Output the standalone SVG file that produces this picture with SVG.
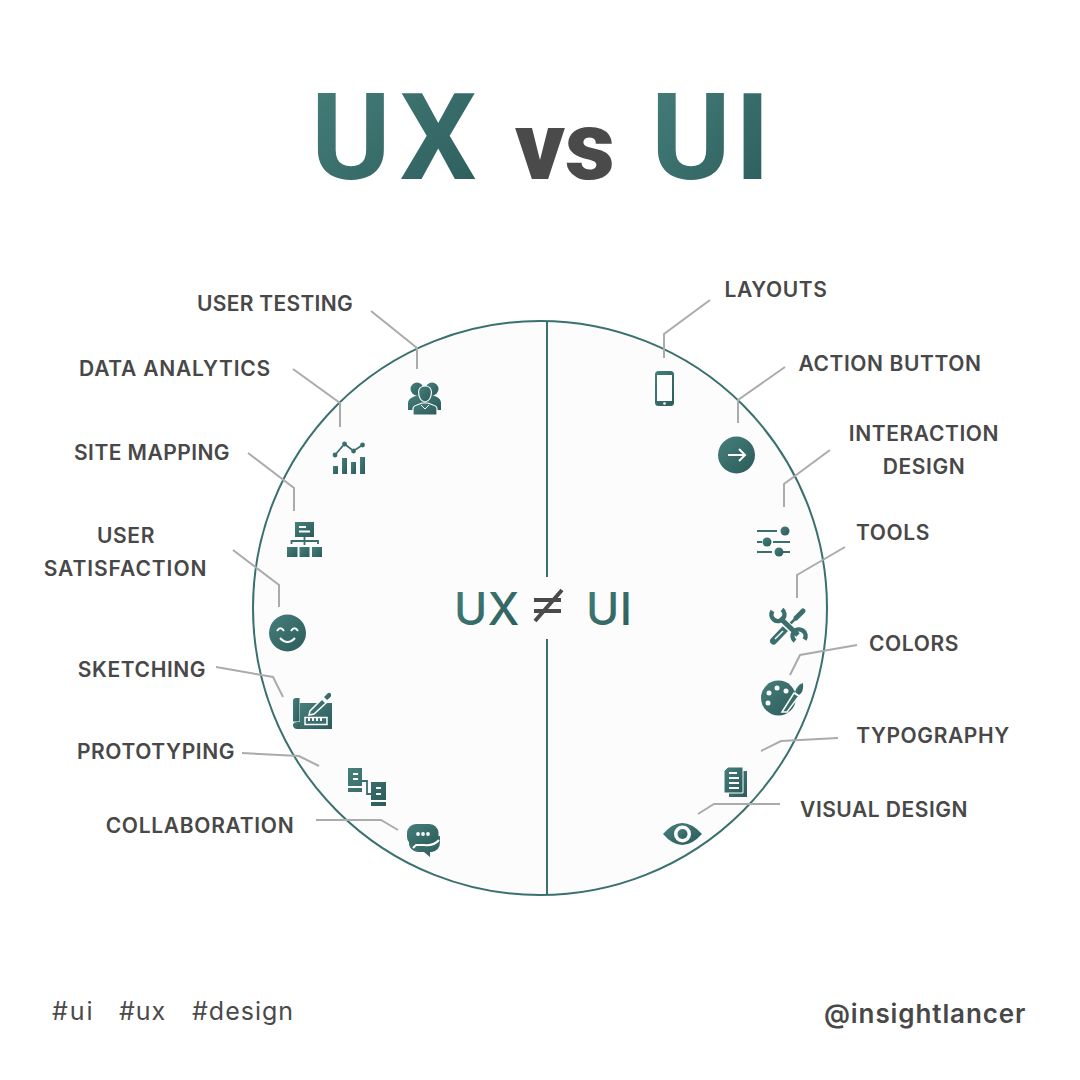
<svg xmlns="http://www.w3.org/2000/svg" width="1080" height="1080" viewBox="0 0 1080 1080">
<defs>
<linearGradient id="g" x1="0" y1="0" x2="1" y2="1"><stop offset="0" stop-color="#467f7b"/><stop offset="1" stop-color="#2b5b5a"/></linearGradient>
</defs>
<style>
text{font-family:"Inter","Liberation Sans",sans-serif}
.l{font-size:21px;font-weight:600;fill:#484848;letter-spacing:.6px}
.m{text-anchor:middle}
.c{fill:none;stroke:#ababab;stroke-width:2}
.i{fill:url(#g)}
.s{fill:none;stroke:#3a6f6d}
.w{fill:#fdfdfd}
.ws{fill:none;stroke:#fdfdfd;stroke-width:2}
.h{font-size:25px;fill:#4a4a4a;letter-spacing:1px}
.t{font-family:"Roboto","Liberation Sans",sans-serif}
</style>
<rect width="1080" height="1080" fill="#fff"/>
<g id="title">
<text class="t" x="311" y="179" font-size="121" font-weight="700" fill="url(#g)" letter-spacing="9">UX</text>
<text class="t" x="515" y="179" font-size="97" font-weight="900" fill="#4a4a4a">vs</text>
<text class="t" x="651" y="179" font-size="121" font-weight="700" fill="url(#g)" letter-spacing="4">UI</text>
</g>
<g id="circle">
<circle cx="540" cy="608" r="287" fill="#fcfcfc" stroke="#3a706e" stroke-width="2"/>
<path d="M547 321V577M547 639V895" fill="none" stroke="#3a706e" stroke-width="2"/>
<text x="454" y="625" font-size="45" font-weight="500" fill="url(#g)" letter-spacing="0.500">UX</text>
<path d="M534 600H561M534 611H561M535 621L562 590" fill="none" stroke="#4a4a4a" stroke-width="4"/>
<text x="586" y="625" font-size="45" font-weight="500" fill="url(#g)" letter-spacing="0.500">UI</text>
</g>
<g id="connectors">
<path class="c" d="M371 311L417 348V369"/>
<path class="c" d="M293 369L340 403V427"/>
<path class="c" d="M248 453L294 488V511"/>
<path class="c" d="M233 550L279 585V607"/>
<path class="c" d="M216 667L273 677L283 697"/>
<path class="c" d="M242 753L299 756L319 766"/>
<path class="c" d="M316 820H381L398 830"/>
<path class="c" d="M710 300L664 334V358"/>
<path class="c" d="M785 367L738 400V423"/>
<path class="c" d="M830 450L784 484V507"/>
<path class="c" d="M845 547L797 575V598"/>
<path class="c" d="M857 645L800 655L790 675"/>
<path class="c" d="M838 738L781 741L761 751"/>
<path class="c" d="M780 804H714L698 814"/>
</g>
<g id="user-testing">
<text class="l m" x="275" y="311" style="letter-spacing:.3px">USER TESTING</text>
<circle class="i" cx="417" cy="389" r="6.500"/><circle class="i" cx="432" cy="389" r="6.500"/>
<path class="i" d="M408 410V403Q408 399 413 397L420 394H430L437 397Q441 399 441 403V410Z"/>
<path class="i" d="M413 415V409Q413 406 417 405L422 403H428L433 405Q437 406 437 409V415Z" stroke="#fdfdfd" stroke-width="1.200"/>
<path class="i" d="M418.500 392Q419 386 425 386Q431 386 431.500 392Q431 401 425 402Q419 401 418.500 392Z" stroke="#fdfdfd" stroke-width="1.200"/>
<path d="M421 405L425 409L429 405" fill="none" stroke="#fdfdfd" stroke-width="1"/>
</g>
<g id="data-analytics">
<text class="l m" x="175" y="376" style="letter-spacing:.75px">DATA ANALYTICS</text>
<path class="s" d="M335 455L344.500 444L353.500 451L362.500 445" stroke-width="1.800"/>
<circle class="i" cx="335" cy="455" r="2.400"/><circle class="i" cx="344.500" cy="444" r="2.400"/><circle class="i" cx="353.500" cy="451" r="2.400"/><circle class="i" cx="362.500" cy="445" r="2.400"/>
<rect class="i" x="333" y="466" width="5" height="8"/><rect class="i" x="342" y="458" width="5" height="16"/><rect class="i" x="351" y="462" width="5" height="12"/><rect class="i" x="360" y="457" width="5" height="17"/>
</g>
<g id="site-mapping">
<text class="l m" x="152" y="460" style="letter-spacing:.45px">SITE MAPPING</text>
<rect class="i" x="295" y="522" width="19" height="15"/>
<path class="ws" d="M299 527H306M299 531.500H310" stroke-width="1.600"/>
<path class="s" d="M291.500 544V541H318V544M304.500 537V545" stroke-width="1.800"/>
<rect class="i" x="287" y="547" width="10.500" height="10"/><rect class="i" x="299.500" y="547" width="10" height="10"/><rect class="i" x="312" y="547" width="10" height="10"/>
</g>
<g id="user-satisfaction">
<text class="l m" x="126" y="543">USER</text><text class="l m" x="125.500" y="576" style="letter-spacing:.95px">SATISFACTION</text>
<circle class="i" cx="287.500" cy="633" r="18.500"/>
<path class="ws" d="M277 631Q280.500 625.500 284 631M291 631Q294.500 625.500 298 631M280 638Q287.500 646 295 638" stroke-width="2.400"/>
</g>
<g id="sketching">
<text class="l m" x="142" y="677">SKETCHING</text>
<rect class="i" x="300" y="703" width="32" height="26"/>
<path class="i" d="M293 701Q293 698 296 698H299.500V721.500H293Z"/>
<path class="i" d="M293 724Q294 722 297 722H300V729H297Q294 729 293 726Z"/>
<path d="M309 715L310 711L322 699L326 703L314 714Z" fill="#3a6f6d" stroke="#fdfdfd" stroke-width="1.500"/>
<path class="i" d="M324 697L328 693Q330 692 331 694Q331.500 696 330 697.500L327 700Z"/>
<rect x="305" y="717.500" width="22" height="7" fill="#3a6f6d" stroke="#fdfdfd" stroke-width="1.500"/>
<path class="ws" d="M309 718V721M313 718V721M317 718V721M321 718V721" stroke-width="1"/>
</g>
<g id="prototyping">
<text class="l m" x="156" y="759">PROTOTYPING</text>
<path class="i" d="M348 768H362V786H348ZM371 782H386V800H371ZM348 788H362V792H348ZM371 802H386V806H371Z"/>
<path class="ws" d="M353 774H358M353 779H358M376 788H381M376 794H381" stroke-width="1.500"/>
<path class="s" d="M362 781H367V794H371" stroke-width="1.800"/>
</g>
<g id="collaboration">
<text class="l m" x="200" y="833" style="letter-spacing:.7px">COLLABORATION</text>
<path class="i" d="M409 840V845Q411 851 418 852H424L430 857V852H432Q440 850 440 842V836L420 838Z"/>
<rect class="i" x="407" y="824" width="31.500" height="22" rx="9"/>
<path class="ws" d="M413 848L416 845H424Q434 846 439 840" stroke-width="1.400"/>
<circle class="w" cx="418" cy="834" r="1.900"/><circle class="w" cx="423" cy="834" r="1.900"/><circle class="w" cx="428" cy="834" r="1.900"/>
</g>
<g id="layouts">
<text class="l m" x="776" y="297">LAYOUTS</text>
<rect class="i" x="655" y="371" width="19" height="35" rx="3.500"/>
<rect class="w" x="657" y="375" width="15" height="26"/>
<circle class="w" cx="664.500" cy="403.500" r="1.300"/>
</g>
<g id="action-button">
<text class="l m" x="890" y="371">ACTION BUTTON</text>
<circle class="i" cx="736.500" cy="455" r="18.500"/>
<path class="ws" d="M728 455H745M739 449L745 455L739 461" stroke-width="3"/>
</g>
<g id="interaction-design">
<text class="l m" x="924" y="441">INTERACTION</text><text class="l m" x="924" y="474">DESIGN</text>
<path class="s" d="M757 531H777M757 542H762M773 542H790M757 552H772M783 552H790" stroke-width="2.200"/>
<circle class="i" cx="785" cy="531" r="4.500"/><circle class="i" cx="767" cy="542" r="4.500"/><circle class="i" cx="779" cy="552" r="4.500"/>
</g>
<g id="tools">
<text class="l m" x="893" y="540">TOOLS</text>
<path class="s" d="M773.500 641L785 629" stroke-width="7" stroke-linecap="round"/>
<path class="s" d="M785 629L797 617" stroke-width="2.500"/>
<path class="s" d="M796 618L803 611" stroke-width="5" stroke-linecap="round"/>
<path d="M775 639L783 631" fill="none" stroke="#fdfdfd" stroke-width="1.500"/>
<path d="M779 618L798 635" fill="none" stroke="#fdfdfd" stroke-width="7.500"/>
<path class="s" d="M780 618L798 635" stroke-width="5"/>
<path class="s" d="M772.500 611A6.500 6.500 0 1 0 782 609.500" stroke-width="4.500"/>
<path class="s" d="M795 641A6.500 6.500 0 1 1 804.500 639.500" stroke-width="4.500"/>
</g>
<g id="colors">
<text class="l m" x="914" y="651">COLORS</text>
<circle class="i" cx="778.500" cy="698" r="17.500"/>
<circle class="w" cx="769" cy="693" r="2.500"/><circle class="w" cx="777" cy="688" r="2.500"/><circle class="w" cx="786" cy="691" r="2.500"/><circle class="w" cx="768" cy="703" r="2.500"/>
<path class="i" d="M782 712L794 693L799 696L787 712Z" stroke="#fdfdfd" stroke-width="1.500"/>
<path class="i" d="M795 692Q797 685 803 683Q804 692 799 695Z"/>
</g>
<g id="typography">
<text class="l m" x="933" y="743">TYPOGRAPHY</text>
<rect class="i" x="729" y="771" width="18" height="26"/>
<path class="i" d="M724 771L728 767H743V793H724Z" stroke="#fdfdfd" stroke-width="1"/>
<path class="ws" d="M729 773H737M729 778H739M729 783H739M729 788H739" stroke-width="1.500"/>
</g>
<g id="visual-design">
<text class="l m" x="884" y="817" style="letter-spacing:.5px">VISUAL DESIGN</text>
<path class="i" d="M663 834Q682 812 702 834Q682 856 663 834Z"/>
<circle class="w" cx="682.500" cy="834" r="8.500"/><circle class="i" cx="682.500" cy="834" r="5"/>
</g>
<g id="footer">
<text class="h" x="52" y="1020" style="letter-spacing:2px">#ui</text>
<text class="h" x="119" y="1020">#ux</text>
<text class="h" x="192" y="1020">#design</text>
<text x="824" y="1023" font-size="26" font-weight="600" fill="#484848" letter-spacing="0.900">@insightlancer</text>
</g>
</svg>
